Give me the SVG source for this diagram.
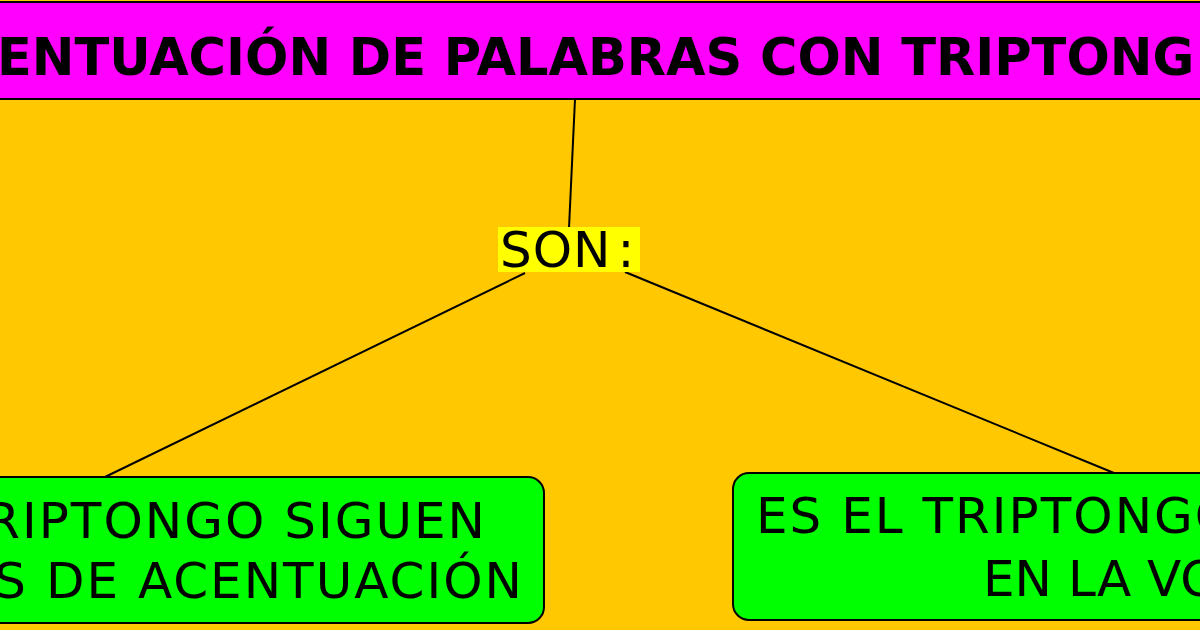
<svg xmlns="http://www.w3.org/2000/svg" width="1200" height="630" viewBox="0 0 1200 630">
<style>
.bg{fill:#FFC800}
.title{fill:#FF00FF;stroke:#000;stroke-width:2}
.box{fill:#00FF00;stroke:#000;stroke-width:2}
.lbl{fill:#FFFF00}
.conn line{stroke:#000;stroke-width:2;fill:none}
.t{font-family:"DejaVu Sans","Liberation Sans",sans-serif;fill:#000}
.tt{font-size:51px;font-weight:bold}
.bt{font-size:50px;letter-spacing:2px}
.bt2{font-size:50px}
.st{font-size:50px;letter-spacing:1px}
</style>
<rect class="bg" x="0" y="0" width="1200" height="630"/>
<g class="conn">
<line x1="575" y1="99" x2="569" y2="228"/>
<line x1="525" y1="273" x2="105" y2="477"/>
<line x1="625" y1="272" x2="1114" y2="473"/>
</g>
<g id="title">
<rect class="title" x="-10" y="2" width="1220" height="97"/>
<text class="t tt" x="-3" y="75">ENTUACIÓN DE PALABRAS CON TRIPTONG</text>
</g>
<g id="son">
<rect class="lbl" x="498" y="227" width="142" height="45"/>
<text class="t st" x="500" y="267">SON<tspan dx="6">:</tspan></text>
</g>
<g id="left">
<rect class="box" x="-20" y="477" width="564" height="146" rx="16"/>
<text class="t bt" x="487" y="538" text-anchor="end">RIPTONGO SIGUEN</text>
<text class="t bt" x="524" y="598" text-anchor="end">S DE ACENTUACIÓN</text>
</g>
<g id="right">
<rect class="box" x="733" y="473" width="490" height="147" rx="16"/>
<text class="t bt" x="756" y="533">ES EL TRIPTONGO</text>
<text class="t bt2" x="983" y="596">EN LA VO</text>
</g>
</svg>
